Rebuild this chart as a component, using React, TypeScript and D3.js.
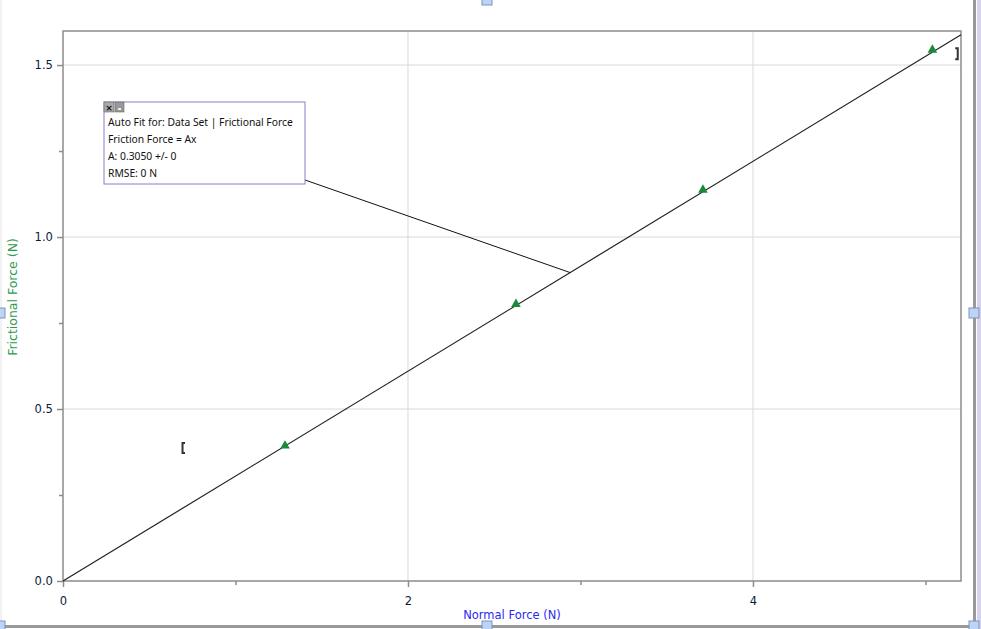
import React, { useRef, useEffect } from "react"
import * as d3 from "d3"

const normalForce = [1.287, 2.626, 3.71, 5.04]
const frictionalForce = [0.393, 0.805, 1.137, 1.544]
const fitSlope = 0.305
const xTicks = [0, 2, 4]
const xMinorTicks = [1, 3, 5]
const yTicks = [0.0, 0.5, 1.0, 1.5]
const yMinorTicks = [0.25, 0.75, 1.25]
const fitText = [
  "Auto Fit for: Data Set | Frictional Force",
  "Friction Force = Ax",
  "A: 0.3050 +/- 0",
  "RMSE: 0 N",
]
const bracketRange = [0.69, 5.19]

const W = 981
const H = 629

const App: React.FC = () => {
  const svgRef = useRef<SVGSVGElement>(null)

  useEffect(() => {
    const svg = d3.select(svgRef.current)
    svg.selectAll("*").remove()

    const margin = { top: 31, right: 20, bottom: 48, left: 63 }
    const font = "'DejaVu Sans', Verdana, sans-serif"
    const boxFont = "'Noto Sans', 'Open Sans', sans-serif"

    const x = d3.scaleLinear().domain([0, 5.206]).range([margin.left, W - margin.right])
    const y = d3.scaleLinear().domain([0, 1.599]).range([H - margin.bottom, margin.top])

    // window frame
    svg.append("rect").attr("width", W).attr("height", H).attr("fill", "#fff")
    svg.append("line").attr("x1", 974.5).attr("x2", 974.5).attr("y1", 0).attr("y2", 627)
      .attr("stroke", "#999").attr("stroke-width", 3)
    svg.append("rect").attr("x", 977).attr("y", 0).attr("width", 4).attr("height", H).attr("fill", "#d8d4f0")
    svg.append("line").attr("x1", 0).attr("x2", 976).attr("y1", 626.5).attr("y2", 626.5)
      .attr("stroke", "#999").attr("stroke-width", 3)
    svg.append("line").attr("x1", 1).attr("x2", 1).attr("y1", 0).attr("y2", 627)
      .attr("stroke", "#e4e4e4").attr("stroke-width", 1)
    const handles = [[487, 0], [0, 313], [974, 313], [0, 626], [487, 626], [974, 626]]
    svg.selectAll(".handle").data(handles).enter().append("rect")
      .attr("x", d => d[0] - 5).attr("y", d => d[1] - 5)
      .attr("width", 10).attr("height", 10)
      .attr("fill", "#bcd4f8").attr("stroke", "#7f93b3")

    // grid
    const g = svg.append("g")
    g.selectAll(".gx").data(xTicks.slice(1)).enter().append("line")
      .attr("x1", d => x(d)).attr("x2", d => x(d))
      .attr("y1", y(0)).attr("y2", margin.top)
      .attr("stroke", "#d9d9d9")
    g.selectAll(".gy").data(yTicks.slice(1)).enter().append("line")
      .attr("x1", margin.left).attr("x2", W - margin.right)
      .attr("y1", d => y(d)).attr("y2", d => y(d))
      .attr("stroke", "#d9d9d9")

    // plot border
    svg.append("rect")
      .attr("x", margin.left).attr("y", margin.top)
      .attr("width", W - margin.right - margin.left)
      .attr("height", H - margin.bottom - margin.top)
      .attr("fill", "none").attr("stroke", "#8c8c8c").attr("stroke-width", 1.5)

    // axes
    const xAxis = svg.append("g").attr("transform", `translate(0,${y(0)})`)
    xAxis.call(d3.axisBottom(x).tickValues(xTicks).tickSize(6).tickFormat(d3.format("d")))
    const xMinor = svg.append("g").attr("transform", `translate(0,${y(0)})`)
    xMinor.call(d3.axisBottom(x).tickValues(xMinorTicks).tickSize(4).tickFormat(() => ""))

    const yAxis = svg.append("g").attr("transform", `translate(${margin.left},0)`)
    yAxis.call(d3.axisLeft(y).tickValues(yTicks).tickSize(6).tickFormat(d3.format(".1f")))
    const yMinor = svg.append("g").attr("transform", `translate(${margin.left},0)`)
    yMinor.call(d3.axisLeft(y).tickValues(yMinorTicks).tickSize(4).tickFormat(() => ""))

    svg.selectAll(".domain").remove()
    svg.selectAll(".tick line").attr("stroke", "#8c8c8c").attr("stroke-width", 1.5)
    svg.selectAll(".tick text").attr("fill", "#0a1a3a").attr("font-family", font).attr("font-size", 11.5)
    xAxis.selectAll(".tick text").attr("dy", "1.3em")
    yAxis.selectAll(".tick text").attr("dx", "-0.1em")

    // axis labels
    svg.append("text")
      .attr("x", 512).attr("y", 619)
      .attr("text-anchor", "middle").attr("fill", "#2a2af0")
      .attr("font-family", font).attr("font-size", 11.5)
      .text("Normal Force (N)")
    svg.append("text")
      .attr("transform", `translate(17,297) rotate(-90)`)
      .attr("text-anchor", "middle").attr("fill", "#2e9950")
      .attr("font-family", font).attr("font-size", 12.5)
      .text("Frictional Force (N)")

    // fit line
    const fitLine = d3.line<number>().x(d => x(d)).y(d => y(fitSlope * d))
    svg.append("path").datum([0, 5.206])
      .attr("d", fitLine).attr("fill", "none").attr("stroke", "#222").attr("stroke-width", 1.2)

    // brackets
    const bl = x(bracketRange[0])
    const by0 = y(fitSlope * 1.287)
    svg.append("path")
      .attr("d", `M${bl + 3},${by0 - 3} h-2.5 v10 h2.5`)
      .attr("fill", "none").attr("stroke", "#333").attr("stroke-width", 2)
    const br = x(bracketRange[1])
    const by1 = y(1.54)
    svg.append("path")
      .attr("d", `M${br - 3},${by1 - 3} h2.5 v11 h-2.5`)
      .attr("fill", "none").attr("stroke", "#333").attr("stroke-width", 2)

    // points
    const tri = d3.symbol().type(d3.symbolTriangle).size(40)
    svg.selectAll(".pt").data(normalForce).enter().append("path")
      .attr("d", tri)
      .attr("transform", (d, i) => `translate(${x(d)},${y(frictionalForce[i])})`)
      .attr("fill", "#1a8a3a")

    // annotation
    const bx = 104, bw = 201, byTop = 102, bh = 82
    const lx = 2.94
    svg.append("line")
      .attr("x1", bx + bw).attr("y1", 180)
      .attr("x2", x(lx)).attr("y2", y(fitSlope * lx))
      .attr("stroke", "#111").attr("stroke-width", 1)
    svg.append("rect")
      .attr("x", bx).attr("y", byTop).attr("width", bw).attr("height", bh)
      .attr("fill", "#fff").attr("stroke", "#8a7fc8").attr("stroke-width", 1)
    svg.append("rect").attr("x", bx).attr("y", byTop).attr("width", 10).attr("height", 10)
      .attr("fill", "#aaa").attr("stroke", "#555").attr("stroke-width", 0.5)
    svg.append("text").attr("x", bx + 5).attr("y", byTop + 9).attr("text-anchor", "middle")
      .attr("font-family", font).attr("font-size", 9).attr("font-weight", "bold").attr("fill", "#111").text("×")
    svg.append("rect").attr("x", bx + 11).attr("y", byTop).attr("width", 9).attr("height", 10)
      .attr("fill", "#999").attr("stroke", "#555").attr("stroke-width", 0.5)
    svg.append("rect").attr("x", bx + 14).attr("y", byTop + 6).attr("width", 3).attr("height", 2).attr("fill", "#eee")

    svg.selectAll(".ann").data(fitText).enter().append("text")
      .attr("x", bx + 4).attr("y", (d, i) => byTop + 24 + i * 17)
      .attr("font-family", boxFont).attr("font-size", 10.3).attr("fill", "#111")
      .text(d => d)
  }, [])

  return (
    <svg ref={svgRef} width={W} height={H}
      style={{ position: "absolute", left: 0, top: 0, display: "block" }} />
  )
}

export default App
